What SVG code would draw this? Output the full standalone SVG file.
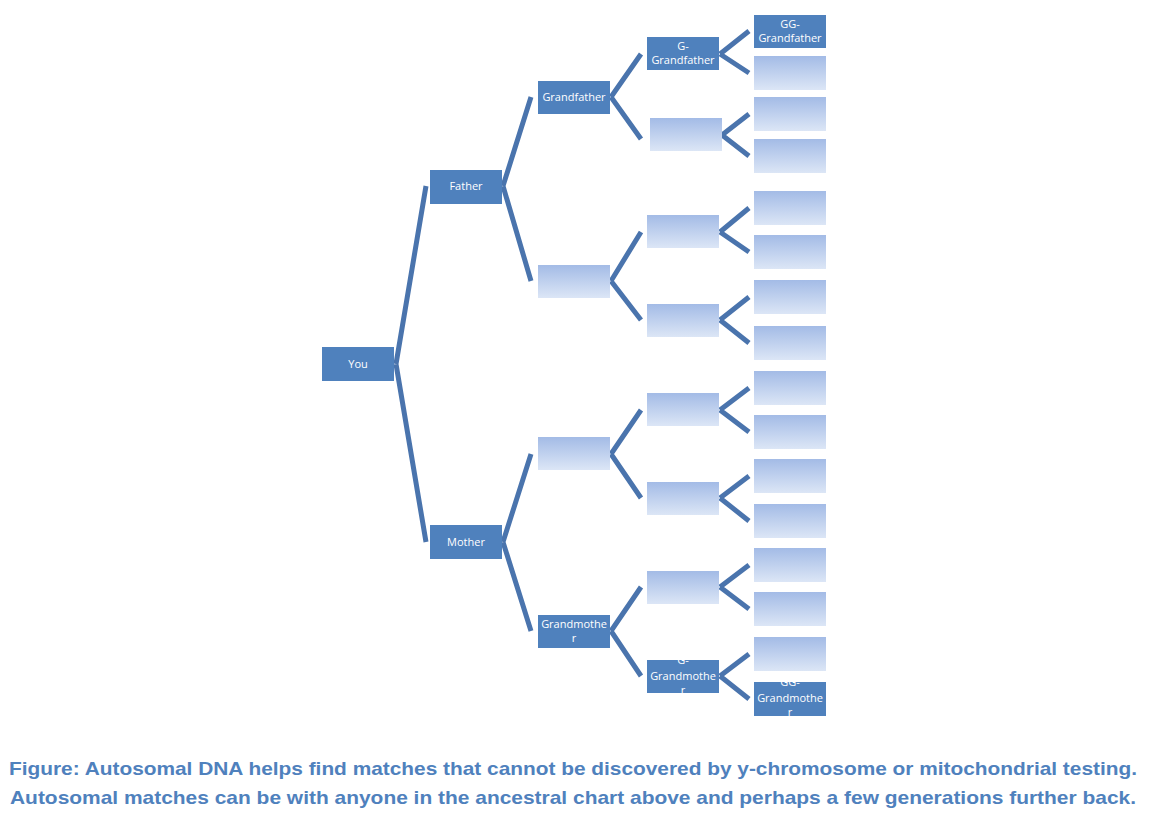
<svg xmlns="http://www.w3.org/2000/svg" width="1151" height="818" viewBox="0 0 1151 818">
<defs>
<linearGradient id="g" x1="0" y1="0" x2="0" y2="1"><stop offset="0" stop-color="#a3bbe6"/><stop offset="1" stop-color="#dce6f6"/></linearGradient>
<style>
.s{fill:#4f81bd}
.e{fill:url(#g)}
.t{fill:#fff;font-family:"Open Sans","DejaVu Sans",sans-serif;font-size:11px;text-anchor:middle}
.c{stroke:#4a74ad;stroke-width:5;fill:none;stroke-linecap:butt}
.cap{fill:#4f81bd;font-family:"Liberation Sans",sans-serif;font-weight:bold;font-size:19px;text-anchor:middle}
</style>
</defs>
<rect width="1151" height="818" fill="#fff"/>
<g id="connectors">
<path class="c" d="M396,364 L426,186 M396,364 L426,542" stroke="#3f6599"/>
<path class="c" d="M503,186 L531,97 M503,186 L531,281 M503,542 L531,454 M503,542 L531,631"/>
<path class="c" d="M611,97 L641,54 M611,97 L641,139 M611,281 L641,232 M611,281 L641,320 M611,454 L641,410 M611,454 L641,498 M611,631 L641,587 M611,631 L641,676"/>
<path class="c" d="M720,54 L749,31 M720,54 L749,73 M722,135 L749,114 M722,135 L749,156 M720,232 L749,208 M720,232 L749,252 M720,320 L749,297 M720,320 L749,343 M720,410 L749,388 M720,410 L749,432 M720,498 L749,476 M720,498 L749,521 M720,587 L749,565 M720,587 L749,609 M720,676 L749,654 M720,676 L749,699"/>
</g>
<g id="you"><rect class="s" x="322" y="347" width="72" height="34"/><text class="t" x="358" y="368">You</text></g>
<g id="father"><rect class="s" x="430" y="170" width="72" height="34"/><text class="t" x="466" y="190">Father</text></g>
<g id="mother"><rect class="s" x="430" y="525" width="72" height="34"/><text class="t" x="466" y="546">Mother</text></g>
<g id="grandfather"><rect class="s" x="538" y="81" width="72" height="33"/><text class="t" x="574" y="101">Grandfather</text></g>
<g id="gp2"><rect class="e" x="538" y="265" width="72" height="33"/></g>
<g id="gp3"><rect class="e" x="538" y="437" width="72" height="33"/></g>
<g id="grandmother"><rect class="s" x="538" y="615" width="72" height="33"/><text class="t" x="574" y="628">Grandmothe</text><text class="t" x="574" y="642">r</text></g>
<g id="ggfather"><rect class="s" x="647" y="37" width="72" height="33"/><text class="t" x="683" y="50">G-</text><text class="t" x="683" y="64">Grandfather</text></g>
<g id="g3b"><rect class="e" x="650" y="118" width="72" height="33"/></g>
<g id="g3c"><rect class="e" x="647" y="215" width="72" height="33"/></g>
<g id="g3d"><rect class="e" x="647" y="304" width="72" height="33"/></g>
<g id="g3e"><rect class="e" x="647" y="393" width="72" height="33"/></g>
<g id="g3f"><rect class="e" x="647" y="482" width="72" height="33"/></g>
<g id="g3g"><rect class="e" x="647" y="571" width="72" height="33"/></g>
<g id="ggmother"><rect class="s" x="647" y="660" width="72" height="33"/><text class="t" x="683" y="664">G-</text><text class="t" x="683" y="680">Grandmothe</text><text class="t" x="683" y="694">r</text></g>
<g id="gggfather"><rect class="s" x="754" y="15" width="72" height="33"/><text class="t" x="790" y="28">GG-</text><text class="t" x="790" y="42">Grandfather</text></g>
<g id="g4b"><rect class="e" x="754" y="56" width="72" height="34"/></g>
<g id="g4c"><rect class="e" x="754" y="97" width="72" height="34"/></g>
<g id="g4d"><rect class="e" x="754" y="139" width="72" height="34"/></g>
<g id="g4e"><rect class="e" x="754" y="191" width="72" height="34"/></g>
<g id="g4f"><rect class="e" x="754" y="235" width="72" height="34"/></g>
<g id="g4g"><rect class="e" x="754" y="280" width="72" height="34"/></g>
<g id="g4h"><rect class="e" x="754" y="326" width="72" height="34"/></g>
<g id="g4i"><rect class="e" x="754" y="371" width="72" height="34"/></g>
<g id="g4j"><rect class="e" x="754" y="415" width="72" height="34"/></g>
<g id="g4k"><rect class="e" x="754" y="459" width="72" height="34"/></g>
<g id="g4l"><rect class="e" x="754" y="504" width="72" height="34"/></g>
<g id="g4m"><rect class="e" x="754" y="548" width="72" height="34"/></g>
<g id="g4n"><rect class="e" x="754" y="592" width="72" height="34"/></g>
<g id="g4o"><rect class="e" x="754" y="637" width="72" height="34"/></g>
<g id="gggmother"><rect class="s" x="754" y="682" width="72" height="34"/><text class="t" x="790" y="686">GG-</text><text class="t" x="790" y="702">Grandmothe</text><text class="t" x="790" y="716">r</text></g>
<text class="cap" x="573" y="775" textLength="1128" lengthAdjust="spacingAndGlyphs">Figure: Autosomal DNA helps find matches that cannot be discovered by y-chromosome or mitochondrial testing.</text>
<text class="cap" x="573" y="804" textLength="1126" lengthAdjust="spacingAndGlyphs">Autosomal matches can be with anyone in the ancestral chart above and perhaps a few generations further back.</text>
</svg>
